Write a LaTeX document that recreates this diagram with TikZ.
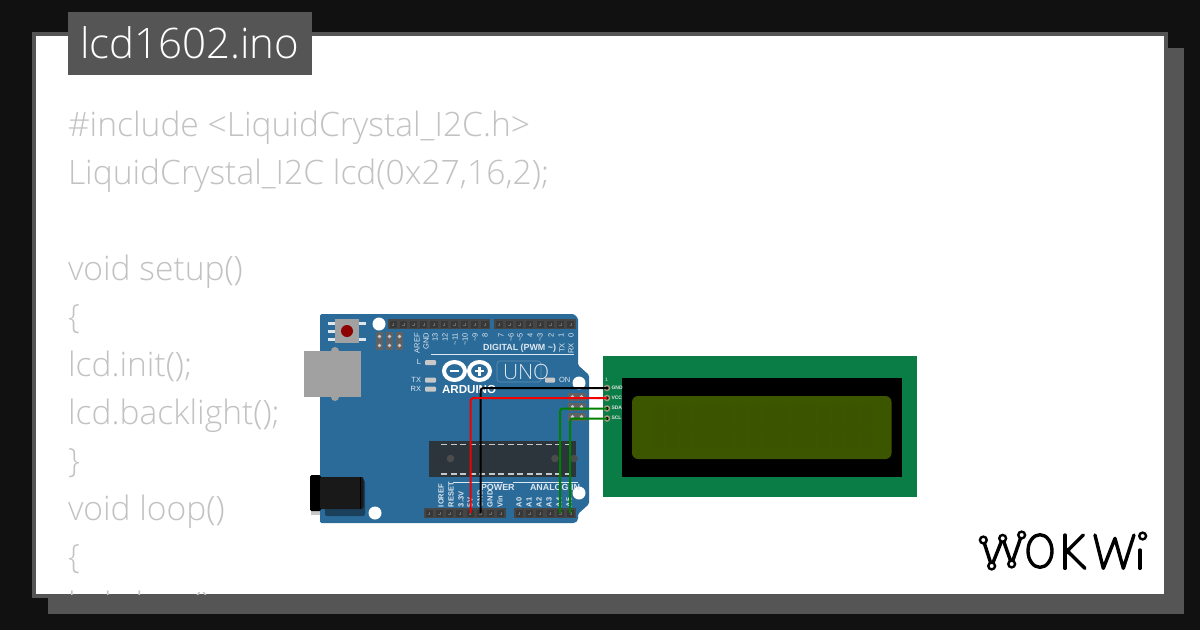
\documentclass[tikz,border=0pt]{standalone}
\usepackage{fontspec}
\setmainfont{Liberation Sans}
\newfontfamily\lightfont{Open Sans Light}
\definecolor{pagebg}{HTML}{111111}
\definecolor{framegray}{HTML}{555555}
\definecolor{codegray}{HTML}{C2C2C2}
\definecolor{boardblue}{HTML}{2B6B99}
\definecolor{hdr}{HTML}{454545}
\definecolor{hdrdark}{HTML}{383838}
\definecolor{hdrtick}{HTML}{6A6A6A}
\definecolor{pale}{HTML}{C8C8C8}
\definecolor{silk}{HTML}{DDE7EF}
\definecolor{lcdgreen}{HTML}{0A7D46}
\definecolor{screen}{HTML}{3C5600}
\definecolor{cell}{HTML}{3B5400}
\definecolor{ring}{HTML}{A89A7A}
\definecolor{wiregreen}{HTML}{008000}
\definecolor{wirered}{HTML}{F00000}
\tikzset{
  every node/.style={inner sep=0pt,outer sep=0pt},
  codeline/.style={anchor=base west,text=codegray,font=\lightfont\fontsize{33.6}{34}\selectfont},
  silkup/.style={rotate=90,text=silk,font=\fontsize{7.5}{8}\selectfont},
  silkbold/.style={text=silk,font=\fontsize{8.9}{9}\selectfont\bfseries},
  silktext/.style={text=silk,font=\fontsize{7.5}{8}\selectfont},
  led/.style={fill=pale,rounded corners=1pt},
  hole/.style={fill=white},
  wirepath/.style={line width=2pt,rounded corners=3pt},
  lcdlabel/.style={anchor=west,text=white!90!black,font=\fontsize{5}{5}\selectfont\bfseries},
  logostroke/.style={draw=black,line width=3.4pt,line cap=round,line join=round},
  logonode/.style={draw=black,fill=white,line width=2.4pt},
}
\newcommand{\hdrstrip}[4]{% x0,x1,y0,count
  \fill[hdr] (#1,#3) rectangle (#2,#3+10);
  \pgfmathsetmacro{\hdrpitch}{(#2-#1)/#4}
  \foreach \k in {1,...,#4}{
    \pgfmathsetmacro{\hx}{#1+(\k-0.5)*\hdrpitch}
    \fill[hdrdark] (\hx-3.6,#3+1.5) rectangle (\hx+3.6,#3+8.5);
    \fill[hdrtick] (\hx-1.2,#3+6.2) rectangle (\hx+1.2,#3+7.4);
    \fill[hdrtick] (\hx+0.3,#3+3.5) rectangle (\hx+1.2,#3+7.4);
  }
}
\begin{document}
\begin{tikzpicture}[x=1pt,y=-1pt]
\useasboundingbox (0,0) rectangle (1200,630);
\fill[pagebg] (0,0) rectangle (1200,630);
% card with offset shadow
\fill[framegray] (48,48) rectangle (1184,614);
\fill[framegray] (32,32) rectangle (1168,598);
\fill[white] (36,36) rectangle (1164,594);
% code
\begin{scope}
\clip (36,36) rectangle (1164,594);
\node[codeline] (c1) at (68,136) {\#include <LiquidCrystal\_I2C.h>};
\node[codeline] (c2) at (68,184) {LiquidCrystal\_I2C lcd(0x27,16,2);};
\node[codeline] (c3) at (68,280) {void setup()};
\node[codeline] (c4) at (68,328) {\{};
\node[codeline] (c5) at (68,376) {lcd.init();};
\node[codeline] (c6) at (68,424) {lcd.backlight();};
\node[codeline] (c7) at (68,472) {\}};
\node[codeline] (c8) at (68,520) {void loop()};
\node[codeline] (c9) at (68,568) {\{};
\node[codeline] (c10) at (68,616) {lcd.clear();};
\end{scope}
% title tab
\fill[framegray] (68,12) rectangle (312,75);
\node[anchor=base west,text=white,font=\lightfont\fontsize{42}{42}\selectfont] (title) at (80,58) {lcd1602.ino};

% ===== Arduino board =====
\fill[boardblue,rounded corners=1.5pt] (320,314) -- (574,314) -- (578,318) -- (578,365) -- (589,375) -- (589,504) -- (578,514) -- (578,520) -- (575,523) -- (320,523) -- cycle;
% USB
\fill[pale!80!black] (335,351) circle (4);
\fill[pale!80!black] (335,397) circle (4);
\fill[black!37] (304,351) rectangle (361,397);
% jack
\fill[boardblue!60!black,rounded corners=2pt] (325,480) rectangle (365,516);
\fill[pale] (311,505) rectangle (320,515);
\fill[black,rounded corners=1.5pt] (310,475) rectangle (321,511);
\fill[black!90,rounded corners=2pt] (320,477) rectangle (363.5,509);
\draw[black,line width=0.6pt] (360,477) -- (360,509);
% reset button
\foreach \yy in {323,331,339}{\fill[silk] (328,\yy-1.5) rectangle (335,\yy+1.5);}
\foreach \yy in {323,339}{\fill[silk] (359,\yy-1.5) rectangle (366,\yy+1.5);}
\fill[black!37] (335,319) rectangle (359,343);
\fill[red!55!black] (347,331) circle (6);
% holes
\fill[hole] (379,324) circle (6.5);
\fill[hole] (579,383) circle (6.5);
\fill[hole] (375,513) circle (6.5);
\fill[hole] (579,493) circle (6.5);
% ICSP by reset
\foreach \xx in {376,386,396}{
  \fill[hdr!85!white] (\xx,332) rectangle (\xx+7,350);
  \fill[pale] (\xx+3.5,336.5) circle (1.8);
  \fill[pale] (\xx+3.5,345.5) circle (1.8);
}
% ICSP by LCD
\foreach \yy in {393,403,413}{
  \fill[hdr!85!white] (568,\yy) rectangle (586,\yy+7.5);
  \fill[pale] (572.5,\yy+3.7) circle (1.8);
  \fill[pale] (581.5,\yy+3.7) circle (1.8);
}
% headers
\hdrstrip{388}{490}{319}{10}
\hdrstrip{494}{576}{319}{8}
\hdrstrip{424}{506}{508}{8}
\hdrstrip{514}{576}{508}{6}
% digital labels
\foreach \xx/\tx/\i in {417/AREF/a,426/GND/b,435/13/c,445/12/d,455/\textasciitilde 11/e,465/\textasciitilde 10/f,475/\textasciitilde 9/g,485/8/h,501/7/i,511/\textasciitilde 6/j,520/\textasciitilde 5/k,530/4/l,540/\textasciitilde 3/m,551/2/n,561/1/o,571/0/p}{
  \node[silkup,anchor=east] (dl\i) at (\xx,333) {\tx};
}
\node[silkup,anchor=east] (dtx) at (562,343) {TX};
\node[silkup,anchor=east] (drx) at (571,343) {RX};
\node[silkbold,anchor=east] (digital) at (556,348) {DIGITAL (PWM \textasciitilde)};
\fill[silk] (431,354) rectangle (574,354.8);
% LEDs
\node[silktext,anchor=east] (ll) at (421,362) {L};
\node[silktext,anchor=east] (ltx) at (421,380) {TX};
\node[silktext,anchor=east] (lrx) at (421,389) {RX};
\node[silktext,anchor=west] (lon) at (559,380) {ON};
\fill[led] (425,360) rectangle (436,365);
\fill[led] (425,377.5) rectangle (436,382.5);
\fill[led] (425,386.5) rectangle (436,391.5);
\fill[led] (545,377.5) rectangle (555,382.5);
% Arduino logo
\draw[white,line width=4pt] (454.5,371) ellipse (10.5 and 9);
\draw[white,line width=4pt] (479.5,371) ellipse (10.5 and 9);
\fill[white] (450,370) rectangle (459,372.2);
\fill[white] (475,370) rectangle (484,372.2);
\fill[white] (478.4,366.5) rectangle (480.6,375.5);
\node[anchor=base west,text=white,font=\fontsize{11.6}{12}\selectfont\bfseries] (ard) at (442,393) {ARDUINO};
\draw[boardblue!75!white,line width=0.6pt,rounded corners=3pt] (497,361) rectangle (541,382);
\node[anchor=base west,text=silk,font=\lightfont\fontsize{21}{21}\selectfont] (uno) at (503,379) {UNO};
% chip
\fill[black!80!boardblue!70!gray] (429,441) rectangle (576,477);
\foreach \k in {0,...,13}{
  \fill[pale] (444+\k*9.5-3,443.5) rectangle (444+\k*9.5+3,445);
  \fill[pale] (444+\k*9.5-3,473) rectangle (444+\k*9.5+3,474.5);
}
\fill[black!70] (450.5,458.5) circle (3.8);
\fill[black!70] (555,458.5) circle (3.8);
\fill[black!70] (574,458.5) circle (3.8);
% power labels
\foreach \xx/\tx/\i in {441/IOREF/a,451/RESET/b,461/3.3V/c,470/5V/d,480/GND/e,490/GND/f,500/Vin/g,519/A0/h,529/A1/i,539/A2/j,549/A3/k,559/A4/l,569/A5/m}{
  \node[silkup,anchor=west,font=\fontsize{7.5}{8}\selectfont\bfseries] (pl\i) at (\xx,507) {\tx};
}
\node[silkbold,anchor=base west] (power) at (481,490) {POWER};
\node[silkbold,anchor=base west] (analog) at (530,490) {ANALOG IN};
\fill[silk] (453,482) rectangle (503,482.7);
\fill[silk] (513,482) rectangle (578,482.7);

% ===== LCD =====
\fill[lcdgreen] (603,356) rectangle (916.5,496.5);
\fill[black] (622,378) rectangle (902,477);
\fill[screen,rounded corners=6pt] (632,396) rectangle (891.5,459);
\foreach \c in {0,...,15}{
  \foreach \r in {405,428}{
    \fill[cell] (652+\c*13.85,\r) rectangle (652+\c*13.85+12,\r+21);
  }
}
\node[anchor=center,text=white!90!black,font=\fontsize{5}{5}\selectfont] (one) at (606.5,380) {1};
\foreach \n/\yy/\tx in {lcdGND/388/GND,lcdVCC/398/VCC,lcdSDA/408.5/SDA,lcdSCL/418.5/SCL}{
  \node[circle,draw=ring,fill=black,line width=1.5pt,minimum size=5pt] (\n) at (607,\yy) {};
  \node[lcdlabel] (\n txt) at (611.5,\yy-0.3) {\tx};
}

% ===== wires =====
\coordinate (pinGND) at (480.5,513);
\coordinate (pin5V) at (470.5,513);
\coordinate (pinA4) at (560,513);
\coordinate (pinA5) at (570,513);
\draw[wirepath,black] (lcdGND.center) -| (pinGND);
\draw[wirepath,wirered] (lcdVCC.center) -| (pin5V);
\draw[wirepath,wiregreen] (lcdSDA.center) -| (pinA4);
\draw[wirepath,wiregreen] (lcdSCL.center) -| (pinA5);

% ===== Wokwi logo =====
\begin{scope}[shift={(960,520)},x=0.3333pt,y=-0.3333pt]
\draw[logostroke] (70,60) -- (95,138) -- (128,55);
\draw[logostroke] (128,55) -- (155,132) -- (185,45);
\draw[logostroke] (240,93) ellipse (36 and 49);
\draw[logostroke] (315,45) -- (315,145);
\draw[logostroke] (370,45) -- (322,93) -- (375,145);
\draw[logostroke] (405,45) -- (430,145) -- (465,55) -- (490,145) -- (522,45);
\draw[logostroke] (540,90) -- (540,145);
\foreach \p/\q in {70/60,95/138,128/55,155/132,185/45,548/48}{
  \fill[logonode] (\p,\q) circle (3.4pt);
}
\fill[logonode] (322,93) circle (1.6pt);
\end{scope}
\end{tikzpicture}
\end{document}
